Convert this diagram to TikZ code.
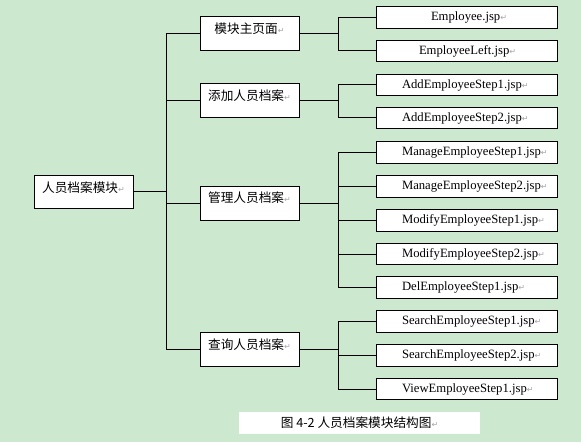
\documentclass[tikz,border=0pt]{standalone}
\usepackage{fontspec}
\setmainfont{Liberation Serif}
\newfontfamily\cjk{Noto Sans CJK SC}
\newfontfamily\markfont{DejaVu Sans}
\definecolor{eyegreen}{RGB}{204,232,207}
\definecolor{markgray}{RGB}{165,165,165}
\newcommand{\retmark}{{\markfont\fontsize{6}{6}\selectfont\textcolor{markgray}{↵}}}
\hfuzz=100pt
\begin{document}
\begin{tikzpicture}[x=0.75pt,y=-0.75pt,font=\fontsize{9.5}{11}\selectfont,
    wire/.style={line width=0.75pt},
    rootbox/.style={rectangle,draw,line width=0.75pt,fill=white,minimum width=74.25pt,minimum height=24.75pt,
        inner ysep=1pt,text height=8pt,text depth=6.4pt,font=\cjk\fontsize{9.5}{11}\selectfont},
    pagebox/.style={rectangle,draw,line width=0.75pt,fill=white,minimum width=74.25pt,minimum height=25.5pt,
        inner ysep=1pt,text height=8pt,text depth=8.7pt,font=\cjk\fontsize{9.5}{11}\selectfont},
    filebox/.style={rectangle,draw,line width=0.75pt,fill=white,minimum width=135.75pt,minimum height=16.1pt,
        inner ysep=1pt,text width=96.75pt,align=left}]
    % background
    \fill[eyegreen] (0,0) rectangle (581,442);
    \useasboundingbox (0,0) rectangle (581,442);

    % module
    \node[rootbox] (root) at (83.5,191.5) {人员档案模块\retmark};

    % pages
    \node[pagebox] (home) at (249.5,34) {模块主页面\retmark};
    \node[pagebox] (add) at (249.5,101) {添加人员档案\retmark};
    \node[pagebox] (manage) at (249.5,203) {管理人员档案\retmark};
    \node[pagebox] (search) at (249.5,349.5) {查询人员档案\retmark};

    % jsp files
    \node[filebox] (emp) at (466.5,17.5) {\hspace*{21.75pt}Employee.jsp\retmark};
    \node[filebox] (empleft) at (466.5,51) {\hspace*{12.75pt}EmployeeLeft.jsp\retmark};
    \node[filebox] (addone) at (466.5,85) {AddEmployeeStep1.jsp\retmark};
    \node[filebox] (addtwo) at (466.5,118) {AddEmployeeStep2.jsp\retmark};
    \node[filebox] (mgone) at (466.5,152.5) {ManageEmployeeStep1.jsp\retmark};
    \node[filebox] (mgtwo) at (466.5,186.5) {ManageEmployeeStep2.jsp\retmark};
    \node[filebox] (modone) at (466.5,220.5) {ModifyEmployeeStep1.jsp\retmark};
    \node[filebox] (modtwo) at (466.5,254) {ModifyEmployeeStep2.jsp\retmark};
    \node[filebox] (delone) at (466.5,287.5) {DelEmployeeStep1.jsp\retmark};
    \node[filebox] (srone) at (466.5,321.5) {SearchEmployeeStep1.jsp\retmark};
    \node[filebox] (srtwo) at (466.5,355.5) {SearchEmployeeStep2.jsp\retmark};
    \node[filebox] (viewone) at (466.5,389) {ViewEmployeeStep1.jsp\retmark};

    % connectors
    \foreach \kid in {home,add,manage,search}
        \draw[wire] (root.east) -- ++(33,0) |- (\kid.west);
    \foreach \kid in {emp,empleft}
        \draw[wire] (home.east) -- ++(39,0) |- (\kid.west);
    \foreach \kid in {addone,addtwo}
        \draw[wire] (add.east) -- ++(39,0) |- (\kid.west);
    \foreach \kid in {mgone,mgtwo,modone,modtwo,delone}
        \draw[wire] (manage.east) -- ++(39,0) |- (\kid.west);
    \foreach \kid in {srone,srtwo,viewone}
        \draw[wire] (search.east) -- ++(39,0) |- (\kid.west);

    % caption
    \node[rectangle,fill=white,minimum width=180.75pt,minimum height=16.5pt,inner sep=0pt,
        font=\cjk\fontsize{9.5}{11}\selectfont] (caption) at (359.5,423) {图 4-2 人员档案模块结构图\retmark};
\end{tikzpicture}
\end{document}
